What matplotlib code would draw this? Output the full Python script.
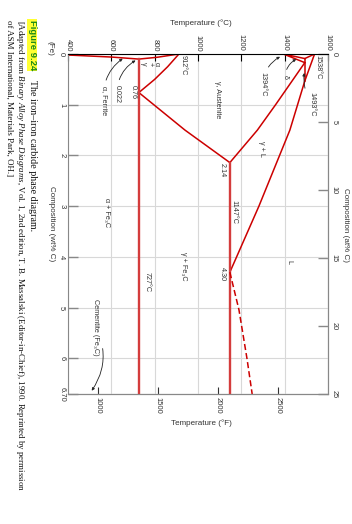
import matplotlib.pyplot as plt

plt.rcParams['font.family'] = ['Liberation Sans', 'DejaVu Sans']
plt.rcParams['mathtext.fontset'] = 'custom'
plt.rcParams['mathtext.rm'] = 'Liberation Serif'
plt.rcParams['mathtext.it'] = 'Liberation Serif:italic'

RED = '#cc0000'
RED2 = '#d43c3c'

# phase boundaries: composition (wt% C) and temperature (deg C)
liquidus_c = [0, 0.53, 1.5, 3.0, 4.0, 4.30]
liquidus_t = [1538, 1493, 1424, 1281, 1178, 1147]
delta_sol_c = [0, 0.09]
delta_sol_t = [1538, 1493]
delta_gam_c = [0.09, 0, 0.17]
delta_gam_t = [1493, 1394, 1493]
peritectic_c = [0.09, 0.53]
peritectic_t = [1493, 1493]
gamma_sol_c = [0.17, 1.0, 1.5, 2.14]
gamma_sol_t = [1493, 1358, 1274, 1147]
eutectic_c = [2.14, 6.70]
eutectic_t = [1147, 1147]
acm_c = [0.76, 1.5, 2.14]
acm_t = [727, 940, 1147]
a3_c = [0, 0.25, 0.5, 0.76]
a3_t = [912, 860, 800, 727]
alpha_c = [0, 0.065, 0.1, 0.06, 0.02]
alpha_t = [912, 811, 727, 600, 400]
eutectoid_c = [0.1, 6.70]
eutectoid_t = [727, 727]
fe3c_liq_c = [4.30, 5.04, 6.0, 6.70]
fe3c_liq_t = [1147, 1189, 1226, 1250]

temp_ticks = [400, 600, 800, 1000, 1200, 1400, 1600]
wt_ticks = [0, 1, 2, 3, 4, 5, 6, 6.70]
wt_labels = ['0', '1', '2', '3', '4', '5', '6', '6.70']
f_ticks = [1000, 1500, 2000, 2500]
at_ticks = [0, 5, 10, 15, 20, 25]

fig = plt.figure(figsize=(3.52, 5.24), dpi=100)
ax = fig.add_axes([68 / 352, 1 - 394 / 524, 260 / 352, 340 / 524])

ax.plot(liquidus_t, liquidus_c, color=RED, lw=1.1)
ax.plot(delta_sol_t, delta_sol_c, color=RED, lw=1.1)
ax.plot(delta_gam_t, delta_gam_c, color=RED, lw=1.1)
ax.plot(peritectic_t, peritectic_c, color=RED, lw=1.1)
ax.plot(gamma_sol_t, gamma_sol_c, color=RED, lw=1.1)
ax.plot(acm_t, acm_c, color=RED, lw=1.1)
ax.plot(a3_t, a3_c, color=RED, lw=1.1)
ax.plot(alpha_t, alpha_c, color=RED, lw=1.1)
ax.plot(eutectic_t, eutectic_c, color=RED2, lw=1.7)
ax.plot(eutectoid_t, eutectoid_c, color=RED2, lw=1.7)
ax.plot(fe3c_liq_t, fe3c_liq_c, color=RED, lw=1.1, dashes=(4, 2))

ax.set_xlim(400, 1600)
ax.set_ylim(6.70, 0)
ax.set_xticks(temp_ticks)
ax.set_yticks(wt_ticks)
ax.set_yticklabels(wt_labels)
ax.grid(color='#d8d8d8', lw=0.8, zorder=0)
ax.set_axisbelow(True)

ax.xaxis.tick_top()
ax.tick_params(axis='x', direction='in', length=5, width=0.8, color='black',
               labelrotation=270, labelsize=5.5, pad=2, labelcolor='#333333')
ax.tick_params(axis='y', direction='in', length=7, width=1, color='#888888',
               labelrotation=270, labelsize=5.5, pad=2, labelcolor='#333333')
for lab in ax.get_yticklabels():
    lab.set_va('center')

ax.spines['top'].set_color('black')
for s in ['left', 'right', 'bottom']:
    ax.spines[s].set_color('#888888')

secx = ax.secondary_xaxis('bottom', functions=(lambda c: c * 9 / 5 + 32,
                                               lambda f: (f - 32) * 5 / 9))
secx.set_xticks(f_ticks)
secx.tick_params(direction='in', length=5, width=0.8, color='#333333',
                 labelrotation=270, labelsize=5.5, pad=2, labelcolor='#333333')
secx.spines['bottom'].set_color('#888888')

secy = ax.secondary_yaxis('right', functions=(lambda w: w * 25 / 6.70,
                                              lambda a: a * 6.70 / 25))
secy.set_yticks(at_ticks)
secy.tick_params(direction='in', length=7, width=1, color='#888888',
                 labelrotation=270, labelsize=5.3, pad=2, labelcolor='#333333')
secy.spines['right'].set_color('#888888')
for lab in secy.get_yticklabels():
    lab.set_va('center')

# region and point labels
kw = dict(rotation=270, ha='center', va='center', fontsize=5.2, color='#333333')
ax.text(1554, 0.26, '1538°C', **kw)
ax.text(931, 0.22, '912°C', **kw)
ax.text(778, 0.2, 'α\n+\nγ', linespacing=0.9, **kw)
ax.text(700, 0.75, '0.76', **kw)
ax.text(1088, 0.91, 'γ, Austenite', **kw)
ax.text(1295, 1.87, 'γ + L', **kw)
ax.text(1111, 2.29, '2.14', **kw)
ax.text(1166, 3.11, '1147°C', **kw)
ax.text(580, 3.13, 'α + Fe₃C', **kw)
ax.text(931, 4.18, 'γ + Fe₃C', **kw)
ax.text(1111, 4.33, '4.30', **kw)
ax.text(765, 4.49, '727°C', **kw)
ax.text(1420, 4.10, 'L', **kw)

arw = dict(arrowstyle='-|>', color='#222222', lw=0.6, mutation_scale=4)
ax.annotate('1493°C', xy=(1492, 0.32), xytext=(1526, 0.985),
            arrowprops=dict(connectionstyle='arc3,rad=-0.2', **arw), **kw)
ax.annotate('1394°C', xy=(1390, 0.03), xytext=(1300, 0.60),
            arrowprops=dict(connectionstyle='arc3,rad=-0.3', **arw), **kw)
ax.annotate('δ', xy=(1465, 0.08), xytext=(1401, 0.45),
            arrowprops=dict(connectionstyle='arc3,rad=-0.3', **arw), **kw)
ax.annotate('0.022', xy=(723, 0.10), xytext=(626, 0.79),
            arrowprops=dict(connectionstyle='arc3,rad=-0.3', **arw), **kw)
ax.annotate('α, Ferrite', xy=(663, 0.06), xytext=(566, 0.91),
            arrowprops=dict(connectionstyle='arc3,rad=-0.3', **arw), **kw)
ax.annotate('Cementite (Fe₃C)', xy=(502, 6.68), xytext=(529, 5.38),
            arrowprops=dict(connectionstyle='arc3,rad=-0.3', **arw), **kw)

# axis titles
lab_kw = dict(fontsize=5.8, color='#333333')
fig.text(201 / 352, 1 - 23 / 524, 'Temperature (°C)', ha='center', va='center', **lab_kw)
fig.text(201 / 352, 1 - 423 / 524, 'Temperature (°F)', ha='center', va='center', **lab_kw)
fig.text(51 / 352, 1 - 224 / 524, 'Composition (wt% C)', rotation=270,
         ha='center', va='center', **lab_kw)
fig.text(345 / 352, 1 - 225 / 524, 'Composition (at% C)', rotation=270,
         ha='center', va='center', **lab_kw)
fig.text(50 / 352, 1 - 48 / 524, '(Fe)', rotation=270, ha='center', va='center', **lab_kw)

# caption
cap = dict(rotation=270, ha='center', va='top', fontsize=6.4,
           family='Liberation Serif', color='#111111')
fig.text(32 / 352, 1 - 20 / 524, 'Figure 9.24', rotation=270, ha='center', va='top',
         fontsize=6.8, fontweight='bold', color='#1a8a1a',
         bbox=dict(facecolor='#ffff33', edgecolor='none', pad=0.6))
fig.text(32 / 352, 1 - 80 / 524, 'The iron–iron carbide phase diagram.',
         rotation=270, ha='center', va='top', fontsize=7.2,
         family='Liberation Serif', color='#111111')
fig.text(20 / 352, 1 - 20 / 524,
         r'[Adapted from $\mathit{Binary\ Alloy\ Phase\ Diagrams}$, Vol. 1, 2nd edition, '
         'T. B. Massalski (Editor-in-Chief), 1990. Reprinted by permission', **cap)
fig.text(9 / 352, 1 - 20 / 524, 'of ASM International, Materials Park, OH.]', **cap)

fig.savefig('out.png', dpi=100)
